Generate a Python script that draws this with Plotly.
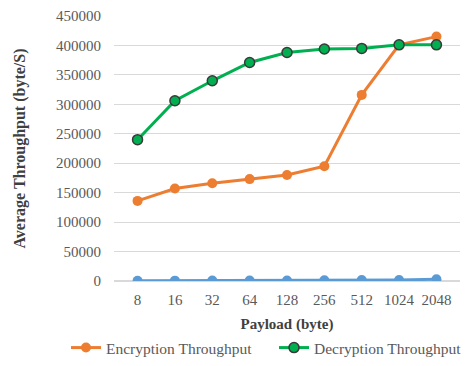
import plotly.graph_objects as go

payload = ["8", "16", "32", "64", "128", "256", "512", "1024", "2048"]
other_throughput = [500, 600, 700, 800, 900, 1200, 1500, 1800, 3000]
encryption_throughput = [136000, 157000, 166000, 173000, 180000, 195000, 316000, 401000, 415000]
decryption_throughput = [240000, 306000, 340000, 371000, 388000, 394000, 395000, 401000, 401000]
y_ticks = [0, 50000, 100000, 150000, 200000, 250000, 300000, 350000, 400000, 450000]

font_family = "Liberation Serif"

fig = go.Figure()
fig.add_trace(go.Scatter(
    x=payload, y=other_throughput, mode="lines+markers", showlegend=False,
    line=dict(color="#5B9BD5", width=3), marker=dict(size=10, color="#5B9BD5"),
    name="Other"))
fig.add_trace(go.Scatter(
    x=payload, y=encryption_throughput, mode="lines+markers",
    name="Encryption Throughput",
    line=dict(color="#ED7D31", width=3), marker=dict(size=10, color="#ED7D31")))
fig.add_trace(go.Scatter(
    x=payload, y=decryption_throughput, mode="lines+markers",
    name="Decryption Throughput",
    line=dict(color="#00B050", width=3),
    marker=dict(size=10, color="#00B050", line=dict(color="#3A3A3A", width=1.5))))

fig.update_layout(
    width=474, height=366,
    margin=dict(l=114, r=14, t=16, b=85, autoexpand=False),
    paper_bgcolor="white", plot_bgcolor="white",
    font=dict(family=font_family, size=15, color="#595959"),
    legend=dict(orientation="h", x=(66 - 114) / 346, xanchor="left",
                y=-(348 - 281) / 265, yanchor="middle", entrywidth=163,
                font=dict(size=15.5, color="#595959", family=font_family),
                traceorder="normal", tracegroupgap=0),
)
fig.update_xaxes(
    type="category", showgrid=False, showline=False, ticks="", ticklabelstandoff=8,
    tickfont=dict(size=15, color="#595959", family=font_family),
    title=dict(text="<b>Payload (byte)</b>", font=dict(size=15, color="#404040", family=font_family),
               standoff=11),
)
fig.update_yaxes(
    range=[0, 450000], tickvals=y_ticks, ticktext=[str(v) for v in y_ticks],
    showgrid=True, gridcolor="#D9D9D9", gridwidth=1, zeroline=True, zerolinecolor="#D9D9D9",
    showline=False, ticks="", ticklabelstandoff=12,
    tickfont=dict(size=15, color="#595959", family=font_family),
    title=dict(text="<b>Average Throughput (byte/S)</b>",
               font=dict(size=16, color="#404040", family=font_family), standoff=26),
)

fig.write_html("out.html")
